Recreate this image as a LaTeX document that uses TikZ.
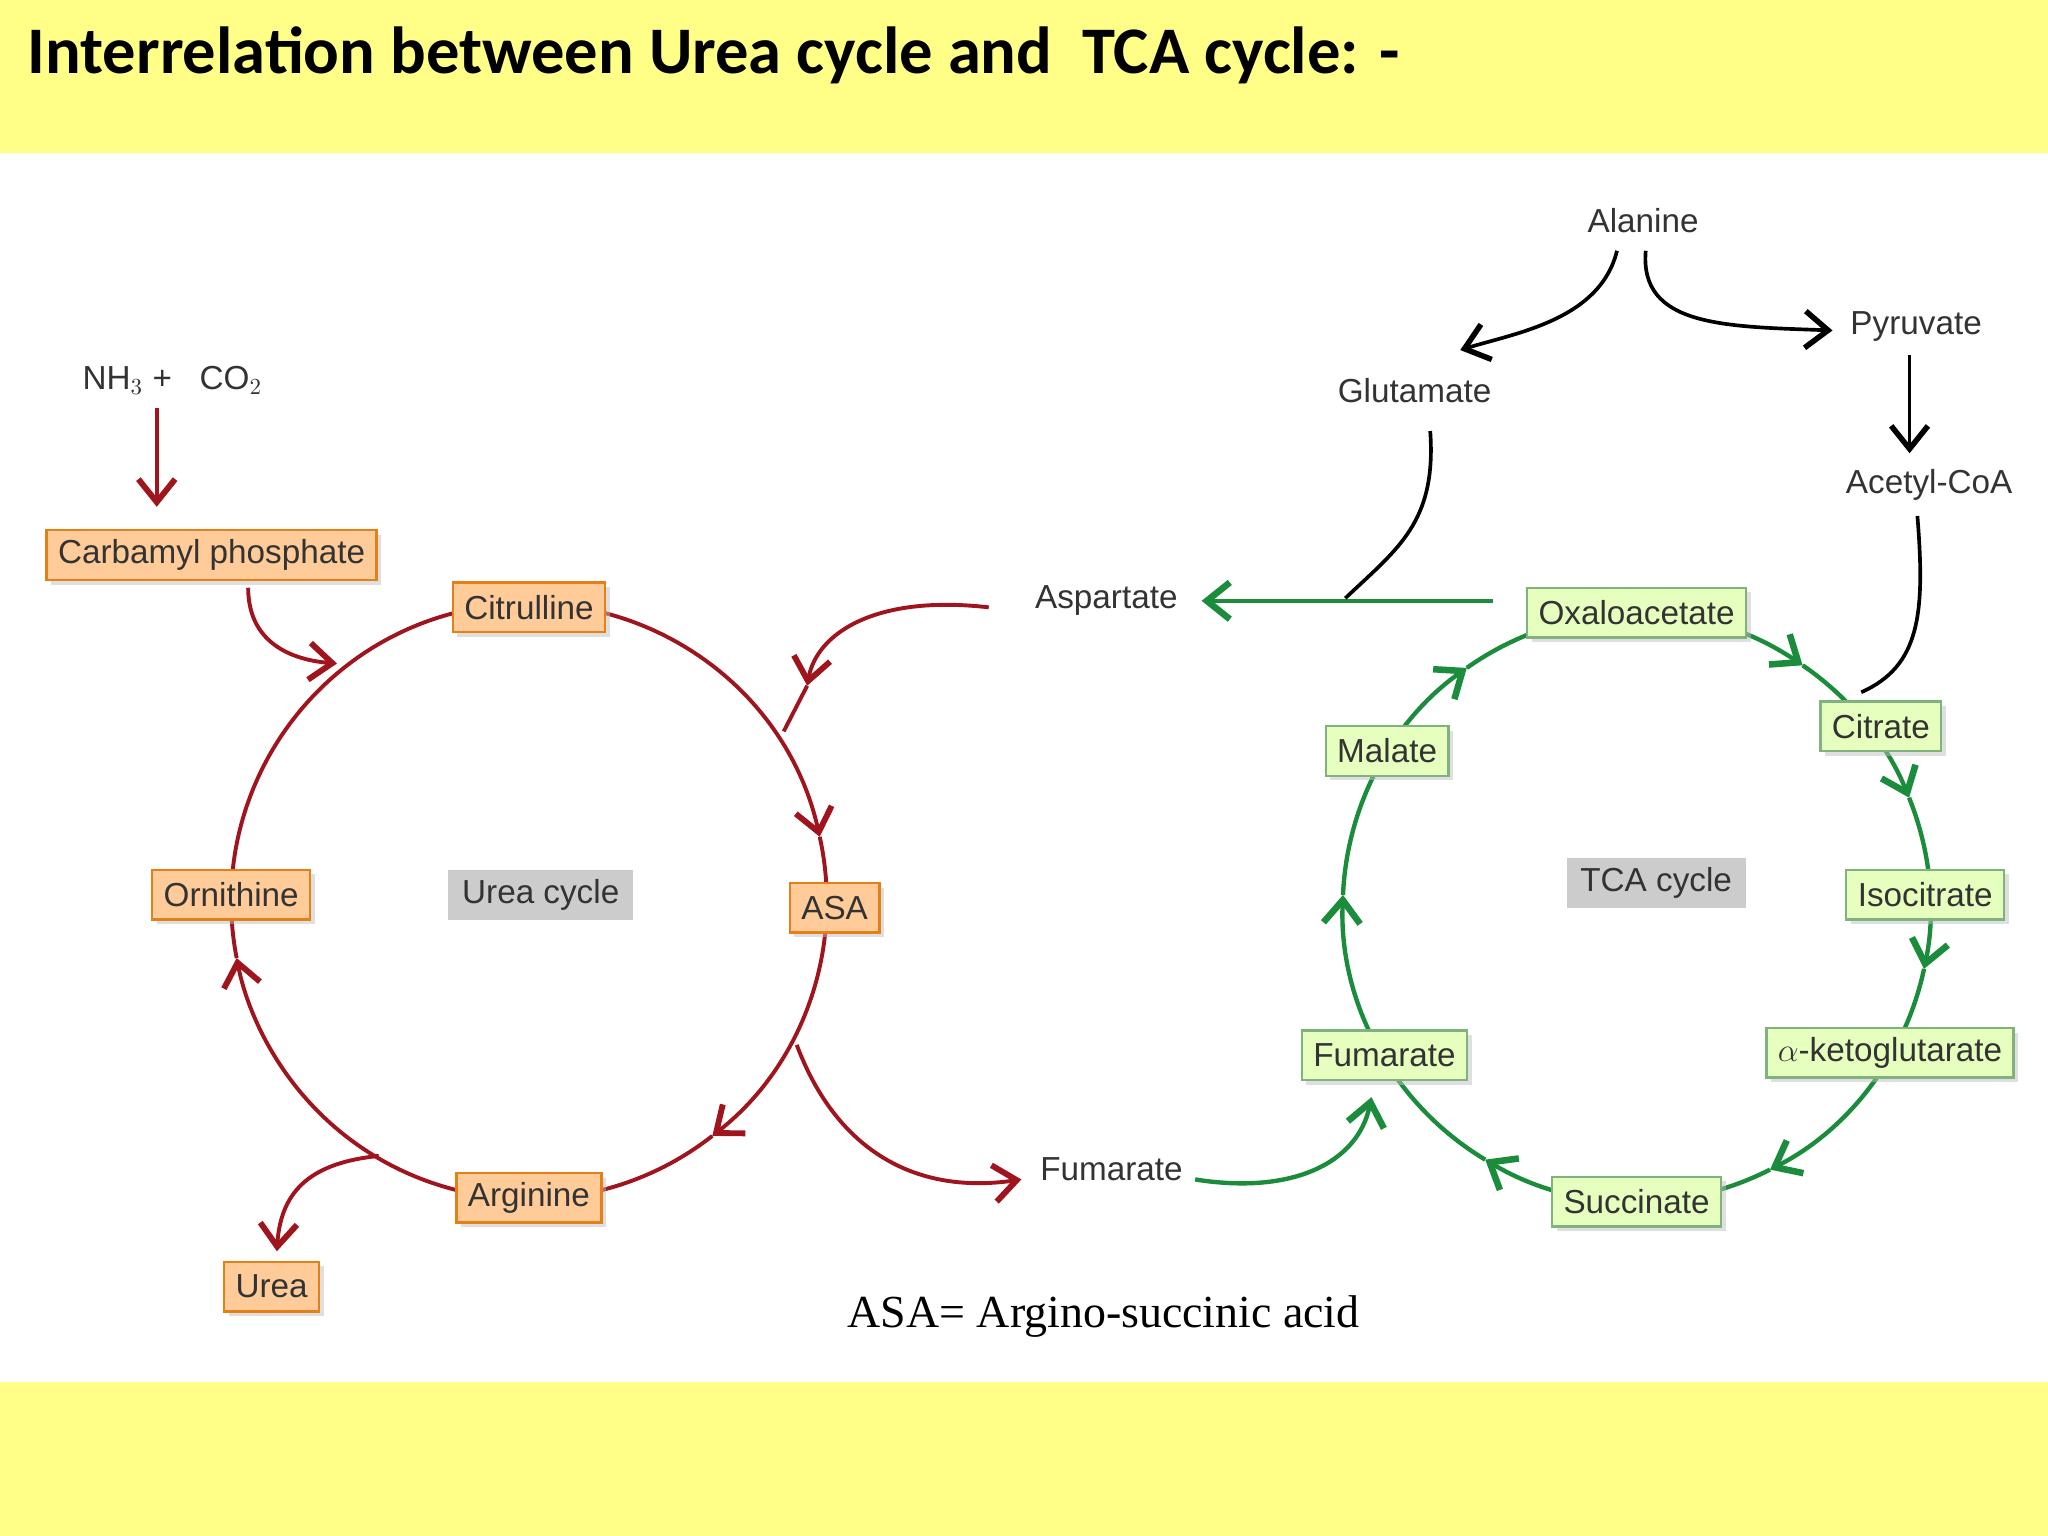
\documentclass[tikz,border=0pt]{standalone}
\usepackage{fontspec}
\setmainfont{Liberation Sans}
\newfontfamily\titlefont{Carlito}
\newfontfamily\timesfont{Liberation Serif}
\usetikzlibrary{arrows.meta,shadows}
\definecolor{ured}{HTML}{A0141E}
\definecolor{tgreen}{HTML}{1A8C3C}
\definecolor{bgyel}{HTML}{FFFF88}
\begin{document}
\begin{tikzpicture}[x=0.02cm,y=-0.02cm,
  tip/.style={-{Straight Barb[length=10pt,width=16pt,line width=0pt 1.5]}},
  lbl/.style={font=\fontsize{14.5}{17}\selectfont, text=black!80},
  ubox/.style={lbl,draw=orange!60!brown,fill=orange!40,line width=1pt,minimum height=0.76cm,inner xsep=5pt,drop shadow={shadow xshift=2pt,shadow yshift=-2pt,fill=black!25}},
  gbox/.style={lbl,draw=green!40!black!50,fill=green!40!yellow!25,line width=1pt,minimum height=0.76cm,inner xsep=5pt,drop shadow={shadow xshift=2pt,shadow yshift=-2pt,fill=black!25}},
  gray/.style={lbl,fill=black!20,minimum height=0.76cm,inner xsep=6pt},
  red/.style={draw=ured,line width=1.7pt},
  grn/.style={draw=tgreen,line width=1.9pt},
  blk/.style={draw=black,line width=1.6pt}]
\useasboundingbox (0,0) rectangle (1568,1176);
\fill[bgyel] (0,0) rectangle (1568,117);
\fill[bgyel] (0,1058) rectangle (1568,1176);
\node[anchor=west,font=\titlefont\bfseries\fontsize{29}{33}\selectfont] (title) at (15,42) {Interrelation between Urea cycle and\ \ TCA cycle: -};

% urea cycle
\coordinate (uc) at (405,690);
\draw[red,tip] (uc) ++(52:228) arc[start angle=52,end angle=169,radius=228];
\draw[red,tip] (uc) ++(169:228) arc[start angle=169,end angle=347.5,radius=228];
\draw[red,tip] (uc) ++(347.5:228) arc[start angle=347.5,end angle=412,radius=228];
\node[ubox] (cit) at (405,465) {Citrulline};
\node[ubox] (asa) at (639,695) {ASA};
\node[ubox] (arg) at (405,917) {Arginine};
\node[ubox] (orn) at (177,685) {Ornithine};
\node[gray] (uclab) at (414,685) {Urea cycle};
\node[ubox] (carb) at (162,425) {Carbamyl phosphate};
\node[ubox] (urea) at (208,985) {Urea};
\node[lbl] (nh3) at (132,291) {NH$_3$ +\ \ \ CO$_2$};
\coordinate (nh3b) at (120,312);
\coordinate (carbt) at (120,388);
\draw[red,tip] (nh3b) -- (carbt);
\coordinate (c1) at (190,450); \coordinate (c2) at (258,508);
\draw[red,tip] (c1) .. controls (190,490) and (220,505) .. (c2);
\coordinate (u1) at (290,885); \coordinate (u2) at (212,958);
\draw[red,tip] (u1) .. controls (240,890) and (215,910) .. (u2);

% tca cycle
\coordinate (tc) at (1253,695);
\foreach \a/\b in {234.7/304.4,304.4/338,338/372,12/63,63/121,121/182.5,182.5/234.7}
  \draw[grn,tip] (tc) ++(\a:225) arc[start angle=\a,end angle=\b,radius=225];
\node[gbox] (oxa) at (1253,469) {Oxaloacetate};
\node[gbox] (citr) at (1440,556) {Citrate};
\node[gbox] (iso) at (1474,685) {Isocitrate};
\node[gbox] (akg) at (1447,806) {$\alpha$-ketoglutarate};
\node[gbox] (suc) at (1253,920) {Succinate};
\node[gbox] (fum) at (1060,808) {Fumarate};
\node[gbox] (mal) at (1062,575) {Malate};
\node[gray] (tlab) at (1268,676) {TCA cycle};

% middle
\node[lbl] (asp) at (847,460) {Aspartate};
\node[lbl] (fum2) at (851,895) {Fumarate};
\node[lbl] (glu) at (1083,299) {Glutamate};
\node[lbl] (ala) at (1258,169) {Alanine};
\node[lbl] (pyr) at (1467,250) {Pyruvate};
\node[lbl] (acoa) at (1477,371) {Acetyl-CoA};

\coordinate (a1) at (757,465); \coordinate (am) at (618,525); \coordinate (a2) at (600,560);
\draw[red,tip] (a1) .. controls (670,455) and (625,485) .. (am);
\draw[red] (am) -- (a2);
\coordinate (g1) at (1143,460); \coordinate (g2) at (920,460);
\draw[grn,tip] (g1) -- (g2);
\coordinate (gl1) at (1095,330); \coordinate (gl2) at (1030,458);
\draw[blk] (gl1) .. controls (1100,400) and (1070,420) .. (gl2);
\coordinate (al1) at (1238,192); \coordinate (al2) at (1118,268);
\draw[blk,tip] (al1) .. controls (1225,245) and (1160,255) .. (al2);
\coordinate (al3) at (1260,192); \coordinate (al4) at (1403,253);
\draw[blk,tip] (al3) .. controls (1255,250) and (1320,250) .. (al4);
\coordinate (p1) at (1462,272); \coordinate (p2) at (1462,347);
\draw[blk,tip] (p1) -- (p2);
\coordinate (ac1) at (1468,395); \coordinate (ac2) at (1425,530);
\draw[blk] (ac1) .. controls (1474,470) and (1470,510) .. (ac2);
\coordinate (f1) at (610,800); \coordinate (f2) at (782,903);
\draw[red,tip] (f1) .. controls (640,880) and (700,915) .. (f2);
\coordinate (f3) at (915,903); \coordinate (f4) at (1050,840);
\draw[grn,tip] (f3) .. controls (990,915) and (1040,890) .. (f4);

\node[font=\timesfont\fontsize{20}{24}\selectfont] (asadef) at (845,1008) {ASA= Argino-succinic acid};
\end{tikzpicture}
\end{document}
